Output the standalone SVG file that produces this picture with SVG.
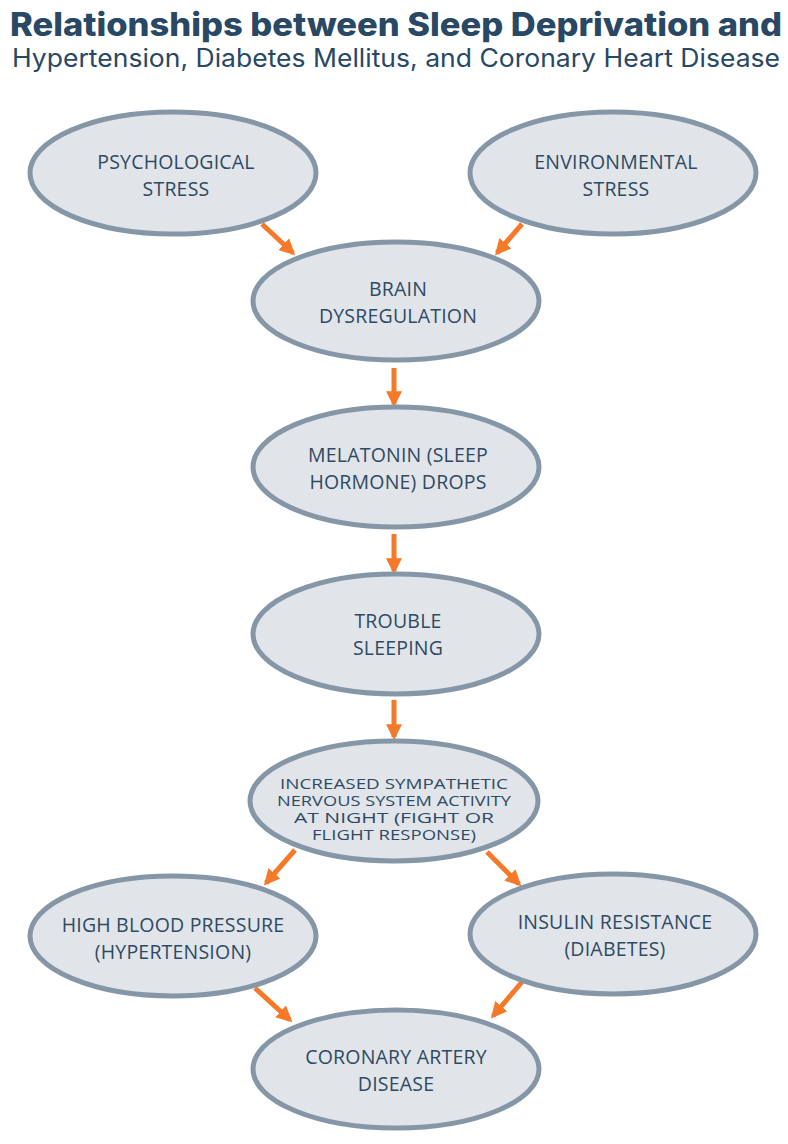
<svg xmlns="http://www.w3.org/2000/svg" width="788" height="1144" viewBox="0 0 788 1144">
<defs>
<style>
.n ellipse{fill:#e1e5ea;stroke:#8597a7;stroke-width:5}
.n text{font-family:"Open Sans",Inter,sans-serif;font-size:19.5px;fill:#2e4a63;text-anchor:middle;letter-spacing:0.2px}
.n text.s{font-size:15px;letter-spacing:0}
#edges line{stroke:#f47a2a;stroke-width:5;marker-end:url(#ah)}
.t{font-family:Inter,"Open Sans",sans-serif;fill:#284863}
</style>
<marker id="ah" viewBox="0 0 10 10" refX="8" refY="5" markerWidth="3.2" markerHeight="3.2" orient="auto"><path d="M0,0L10,5L0,10z" fill="#f47a2a"/></marker>
</defs>
<rect width="788" height="1144" fill="#fff"/>
<text class="t" x="10" y="36" font-size="32" font-weight="800" textLength="772" lengthAdjust="spacingAndGlyphs">Relationships between Sleep Deprivation and</text>
<text class="t" x="12" y="67" font-size="25" textLength="768" lengthAdjust="spacingAndGlyphs">Hypertension, Diabetes Mellitus, and Coronary Heart Disease</text>
<g id="edges">
<line x1="262" y1="224" x2="293" y2="253"/>
<line x1="522" y1="224" x2="497" y2="253"/>
<line x1="394" y1="368" x2="394" y2="404"/>
<line x1="394" y1="534" x2="394" y2="571"/>
<line x1="394" y1="700" x2="394" y2="737"/>
<line x1="295" y1="850" x2="266" y2="883"/>
<line x1="487" y1="852" x2="519" y2="884"/>
<line x1="255" y1="988" x2="290" y2="1020"/>
<line x1="522" y1="982" x2="493" y2="1016"/>
</g>
<g id="psych" class="n"><ellipse cx="173" cy="173" rx="143" ry="61"/><text x="176" y="169">PSYCHOLOGICAL</text><text x="176" y="196">STRESS</text></g>
<g id="env" class="n"><ellipse cx="613" cy="173" rx="143" ry="61"/><text x="616" y="169">ENVIRONMENTAL</text><text x="616" y="196">STRESS</text></g>
<g id="brain" class="n"><ellipse cx="396" cy="301" rx="143" ry="59"/><text x="398" y="296">BRAIN</text><text x="398" y="323">DYSREGULATION</text></g>
<g id="melatonin" class="n"><ellipse cx="396" cy="467" rx="143" ry="60"/><text x="398" y="462">MELATONIN (SLEEP</text><text x="398" y="489">HORMONE) DROPS</text></g>
<g id="trouble" class="n"><ellipse cx="396" cy="634" rx="143" ry="60"/><text x="398" y="628">TROUBLE</text><text x="398" y="655">SLEEPING</text></g>
<g id="sympathetic" class="n"><ellipse cx="394" cy="801" rx="144" ry="60"/><text class="s" x="394" y="789" textLength="228" lengthAdjust="spacingAndGlyphs">INCREASED SYMPATHETIC</text><text class="s" x="394" y="806" textLength="234" lengthAdjust="spacingAndGlyphs">NERVOUS SYSTEM ACTIVITY</text><text class="s" x="394" y="823" textLength="200" lengthAdjust="spacingAndGlyphs">AT NIGHT (FIGHT OR</text><text class="s" x="394" y="840" textLength="164" lengthAdjust="spacingAndGlyphs">FLIGHT RESPONSE)</text></g>
<g id="hbp" class="n"><ellipse cx="173" cy="936" rx="143" ry="60"/><text x="173" y="932">HIGH BLOOD PRESSURE</text><text x="173" y="959">(HYPERTENSION)</text></g>
<g id="insulin" class="n"><ellipse cx="613" cy="934" rx="143" ry="60"/><text x="615" y="929">INSULIN RESISTANCE</text><text x="615" y="956">(DIABETES)</text></g>
<g id="cad" class="n"><ellipse cx="396" cy="1069" rx="143" ry="59"/><text x="396" y="1064">CORONARY ARTERY</text><text x="396" y="1091">DISEASE</text></g>
</svg>
